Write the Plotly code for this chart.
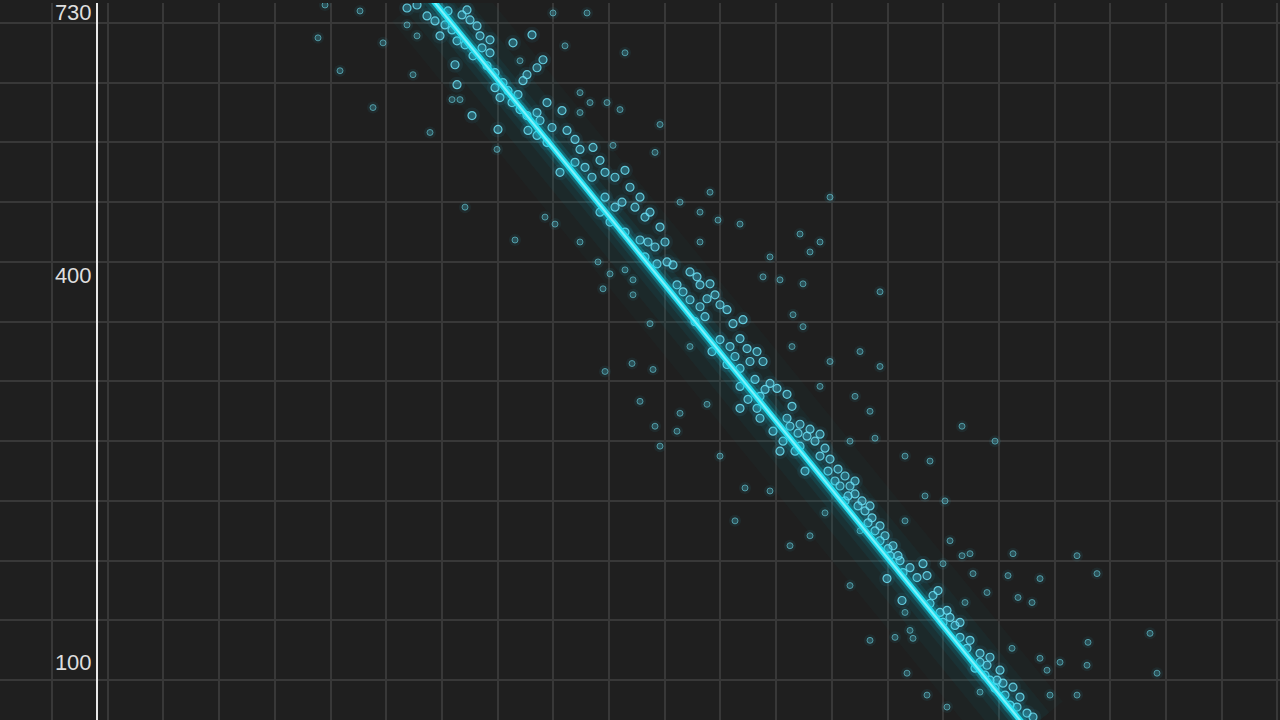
import plotly.graph_objects as go

# ---- data (axis units; y increases upward) ----
y_tick_labels = ["730", "400", "100"]
y_tick_values = [710.5, 447, 58]

trend_x = [427, 1028]
trend_y = [730, -10]

near_x = [407, 417, 427, 435, 445, 452, 440, 457, 470, 477, 480, 490, 473, 487, 495, 503, 508, 500, 512, 520,
          527, 537, 547, 527, 467, 455, 457, 472, 498, 537, 547, 562, 567, 575, 580, 593, 513, 532, 543, 537,
          600, 605, 615, 625, 630, 640, 635, 645, 650, 660, 665, 648, 625, 610,
          667, 673, 690, 697, 700, 710, 715, 720, 727, 707, 683, 677, 733, 743, 740, 747, 757, 763, 750, 740,
          727, 770, 777, 740, 787, 792, 800, 787, 773, 760, 757, 740, 807, 820, 783,
          810, 815, 825, 830, 838, 845, 850, 855, 862, 865, 872, 880, 885, 893, 870, 855, 820, 835, 845, 875,
          795, 805,
          890, 900, 910, 917, 927, 923, 903, 933, 947, 950, 960, 943, 960, 970, 967, 980, 990, 987, 1000, 997,
          1003, 990, 980, 1013, 1020, 1027, 1033, 1017, 902, 887,
          462, 448, 482, 465, 490, 518, 495, 523, 540, 552, 528, 575, 585, 560, 592, 605, 615, 622, 600, 640,
          655, 645, 657, 690, 700, 705, 695, 720, 730, 735, 712, 755, 765, 760, 748, 790, 798, 780, 800, 828,
          840, 848, 858, 868, 880, 888, 898, 930, 940, 955, 938, 975, 985, 995, 1005, 1010]
near_y = [715, 718, 707, 702, 698, 693, 687, 682, 703, 697, 687, 683, 667, 657, 650, 640, 632, 625, 620, 613,
          607, 610, 620, 648, 713, 658, 638, 607, 593, 587, 580, 612, 592, 583, 573, 575, 680, 688, 663, 655,
          562, 550, 545, 552, 535, 525, 515, 505, 510, 495, 480, 480, 490, 500,
          460, 457, 450, 445, 437, 438, 427, 417, 412, 423, 430, 437, 398, 402, 383, 373, 370, 360, 360, 353,
          357, 338, 333, 335, 327, 315, 297, 303, 290, 303, 313, 313, 285, 287, 280,
          292, 280, 273, 262, 252, 245, 235, 227, 220, 210, 203, 195, 185, 175, 215, 240, 265, 240, 220, 190,
          270, 250,
          165, 160, 153, 143, 145, 157, 148, 125, 110, 103, 98, 98, 83, 80, 72, 67, 63, 55, 50, 40,
          37, 40, 58, 33, 23, 7, 3, 13, 120, 142,
          708, 712, 675, 678, 670, 628, 635, 642, 602, 595, 592, 560, 555, 550, 545, 525, 515, 520, 510, 482,
          475, 465, 458, 422, 415, 405, 400, 382, 375, 365, 370, 342, 332, 325, 322, 295, 288, 270, 275, 250,
          235, 225, 215, 198, 180, 172, 165, 117, 108, 95, 130, 52, 45, 32, 25, 15]

far_x = [318, 340, 360, 383, 373, 430, 465, 325, 407, 417, 413, 452, 460, 497, 565, 587, 553, 580, 590, 607,
         620, 625, 580, 613,
         515, 545, 555, 655, 660, 520, 700, 718, 740, 770, 800, 810, 820, 830, 763, 780, 803, 700, 680, 710,
         580, 598, 625, 610, 633, 633, 603,
         650, 632, 653, 690, 680, 707, 677, 793, 803, 792, 830, 820,
         745, 770, 790, 810, 825, 860, 905, 925, 945, 950, 962, 850, 875, 905, 930, 962, 995, 855, 870, 880,
         860, 880, 720, 660, 655, 640, 605, 735, 850, 870, 905, 910,
         943, 973, 987, 1008, 1040, 1032, 965, 1018, 913, 895, 907, 927, 947, 980, 1012, 1040, 1047, 1060, 1087, 1088,
         1077, 1097, 1077, 1150, 1157, 1050, 970, 1013]
far_y = [685, 652, 712, 680, 615, 590, 515, 718, 698, 687, 648, 623, 623, 573, 677, 710, 710, 630, 620, 620,
         613, 670, 610, 577,
         482, 505, 498, 570, 598, 662, 510, 502, 498, 465, 488, 470, 480, 525, 445, 442, 438, 480, 520, 530,
         480, 460, 452, 448, 442, 427, 433,
         398, 358, 352, 375, 308, 317, 290, 407, 395, 375, 360, 335,
         233, 230, 175, 185, 208, 190, 200, 225, 220, 180, 165, 280, 283, 265, 260, 295, 280, 325, 310, 355,
         370, 430, 265, 275, 295, 320, 350, 200, 135, 80, 108, 90,
         157, 147, 128, 145, 142, 118, 118, 123, 82, 83, 47, 25, 13, 28, 72, 62, 50, 58, 55, 78,
         25, 147, 165, 87, 47, 25, 167, 167]

# ---- figure ----
BG = "#1f1f1f"
GRID = "#383838"

fig = go.Figure()

# haze around the trend band
for w, a in [(90, 0.025), (55, 0.04), (30, 0.06)]:
    fig.add_trace(go.Scatter(x=trend_x, y=trend_y, mode="lines",
                             line=dict(color=f"rgba(0,200,230,{a})", width=w),
                             hoverinfo="skip", showlegend=False))

# far (sparse) points
fig.add_trace(go.Scatter(x=far_x, y=far_y, mode="markers",
                         marker=dict(size=12, color="rgba(60,200,230,0.07)", line=dict(width=0)),
                         hoverinfo="skip", showlegend=False))
fig.add_trace(go.Scatter(x=far_x, y=far_y, mode="markers",
                         marker=dict(size=6, color="rgba(70,190,210,0.25)",
                                     line=dict(color="rgba(110,215,230,0.6)", width=1)),
                         showlegend=False))

# near (dense) points
fig.add_trace(go.Scatter(x=near_x, y=near_y, mode="markers",
                         marker=dict(size=16, color="rgba(50,200,235,0.07)", line=dict(width=0)),
                         hoverinfo="skip", showlegend=False))
fig.add_trace(go.Scatter(x=near_x, y=near_y, mode="markers",
                         marker=dict(size=8, color="rgba(60,195,225,0.35)",
                                     line=dict(color="rgba(110,225,245,0.85)", width=1.2)),
                         showlegend=False))

# glowing trend line
for w, c in [(18, "rgba(0,220,245,0.10)"), (11, "rgba(20,225,245,0.25)"),
             (6, "#22dcee"), (2, "#7ff2fb")]:
    fig.add_trace(go.Scatter(x=trend_x, y=trend_y, mode="lines",
                             line=dict(color=c, width=w),
                             hoverinfo="skip", showlegend=False))

fig.update_layout(
    width=1280, height=720,
    margin=dict(l=0, r=0, t=0, b=0),
    paper_bgcolor=BG, plot_bgcolor=BG,
    showlegend=False,
    xaxis=dict(range=[0, 1280], tick0=52, dtick=55.7, showgrid=True,
               gridcolor=GRID, gridwidth=2, showticklabels=False, ticks="",
               zeroline=False, showline=False, fixedrange=True),
    yaxis=dict(range=[0, 720], tickmode="array", tickvals=y_tick_values,
               ticktext=y_tick_labels, showgrid=False, zeroline=False,
               anchor="free", position=97 / 1280,
               showline=True, linecolor="#e8e8e8", linewidth=2, ticks="",
               ticklabeloverflow="allow",
               tickfont=dict(family="Liberation Sans", size=22, color="#dedede"),
               minor=dict(tickmode="linear", tick0=40, dtick=60, showgrid=True,
                          gridcolor=GRID, gridwidth=2, ticks=""),
               fixedrange=True),
)

fig.write_html("out.html", config={"displayModeBar": False},
               post_script="document.body.style.margin='0';document.body.style.padding='0';"
                           "document.body.style.background='#1f1f1f';")
